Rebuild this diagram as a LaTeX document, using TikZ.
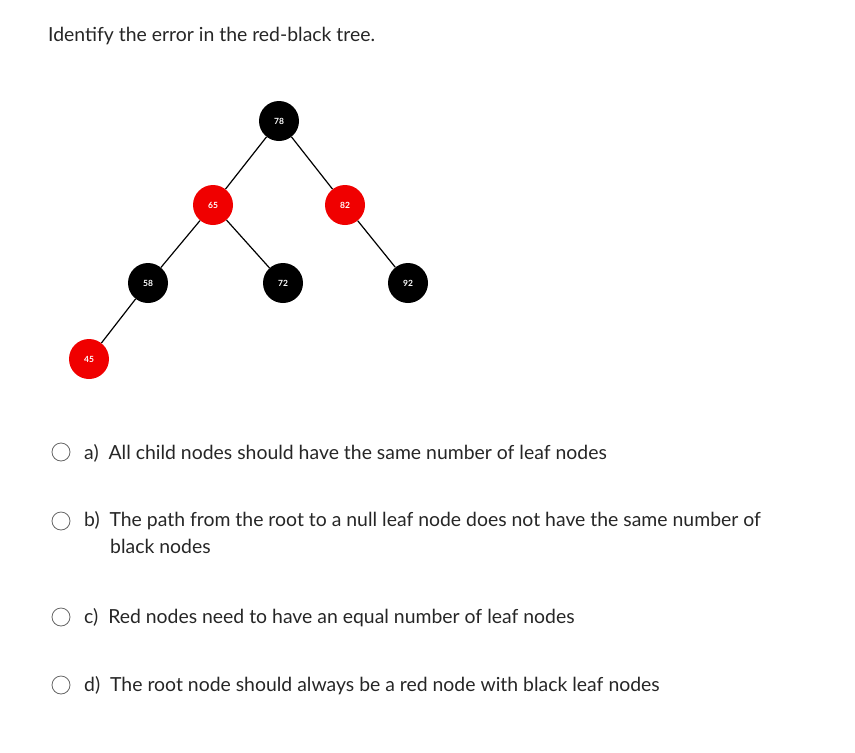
\documentclass[tikz,border=0pt]{standalone}
\usepackage{fontspec}
\setmainfont{Lato}
\definecolor{rbred}{RGB}{240,0,0}
\begin{document}
\begin{tikzpicture}[x=1pt,y=-1pt,
  bn/.style={circle,fill=black,text=white,minimum size=40pt,inner sep=0pt,font=\fontsize{8.5}{9}\selectfont\bfseries},
  rn/.style={circle,fill=rbred,text=white,minimum size=40pt,inner sep=0pt,font=\fontsize{8.5}{9}\selectfont\bfseries},
  edge/.style={line width=1.2pt,black},
  radio/.style={circle,draw=black!60,line width=0.8pt,minimum size=18pt,inner sep=0pt},
  txt/.style={anchor=west,inner sep=0pt,font=\fontsize{19.4}{27}\selectfont,text=black!85}]
\useasboundingbox (0,0) rectangle (855,753);
\node[txt] (title) at (48,36) {Identify the error in the red-black tree.};
\node[bn] (n78) at (279,121) {78};
\node[rn] (n65) at (213,205) {65};
\node[rn] (n82) at (345,205) {82};
\node[bn] (n58) at (148,283) {58};
\node[bn] (n72) at (283,283) {72};
\node[bn] (n92) at (408,283) {92};
\node[rn] (n45) at (89,359) {45};
\draw[edge] (n78)--(n65); \draw[edge] (n78)--(n82);
\draw[edge] (n65)--(n58); \draw[edge] (n65)--(n72);
\draw[edge] (n82)--(n92); \draw[edge] (n58)--(n45);
\node[radio] (ra) at (61,452) {};
\node[txt] (ta) at (84,453) {a)\ \ All child nodes should have the same number of leaf nodes};
\node[radio] (rb) at (61,521) {};
\node[txt,anchor=north west,align=left] (tb) at (84,511) {b)\ \ The path from the root to a null leaf node does not have the same number of\\\hspace*{26pt}black nodes};
\node[radio] (rc) at (61,617) {};
\node[txt] (tc) at (84,618) {c)\ \ Red nodes need to have an equal number of leaf nodes};
\node[radio] (rd) at (61,685) {};
\node[txt] (td) at (84,686) {d)\ \ The root node should always be a red node with black leaf nodes};
\end{tikzpicture}
\end{document}
